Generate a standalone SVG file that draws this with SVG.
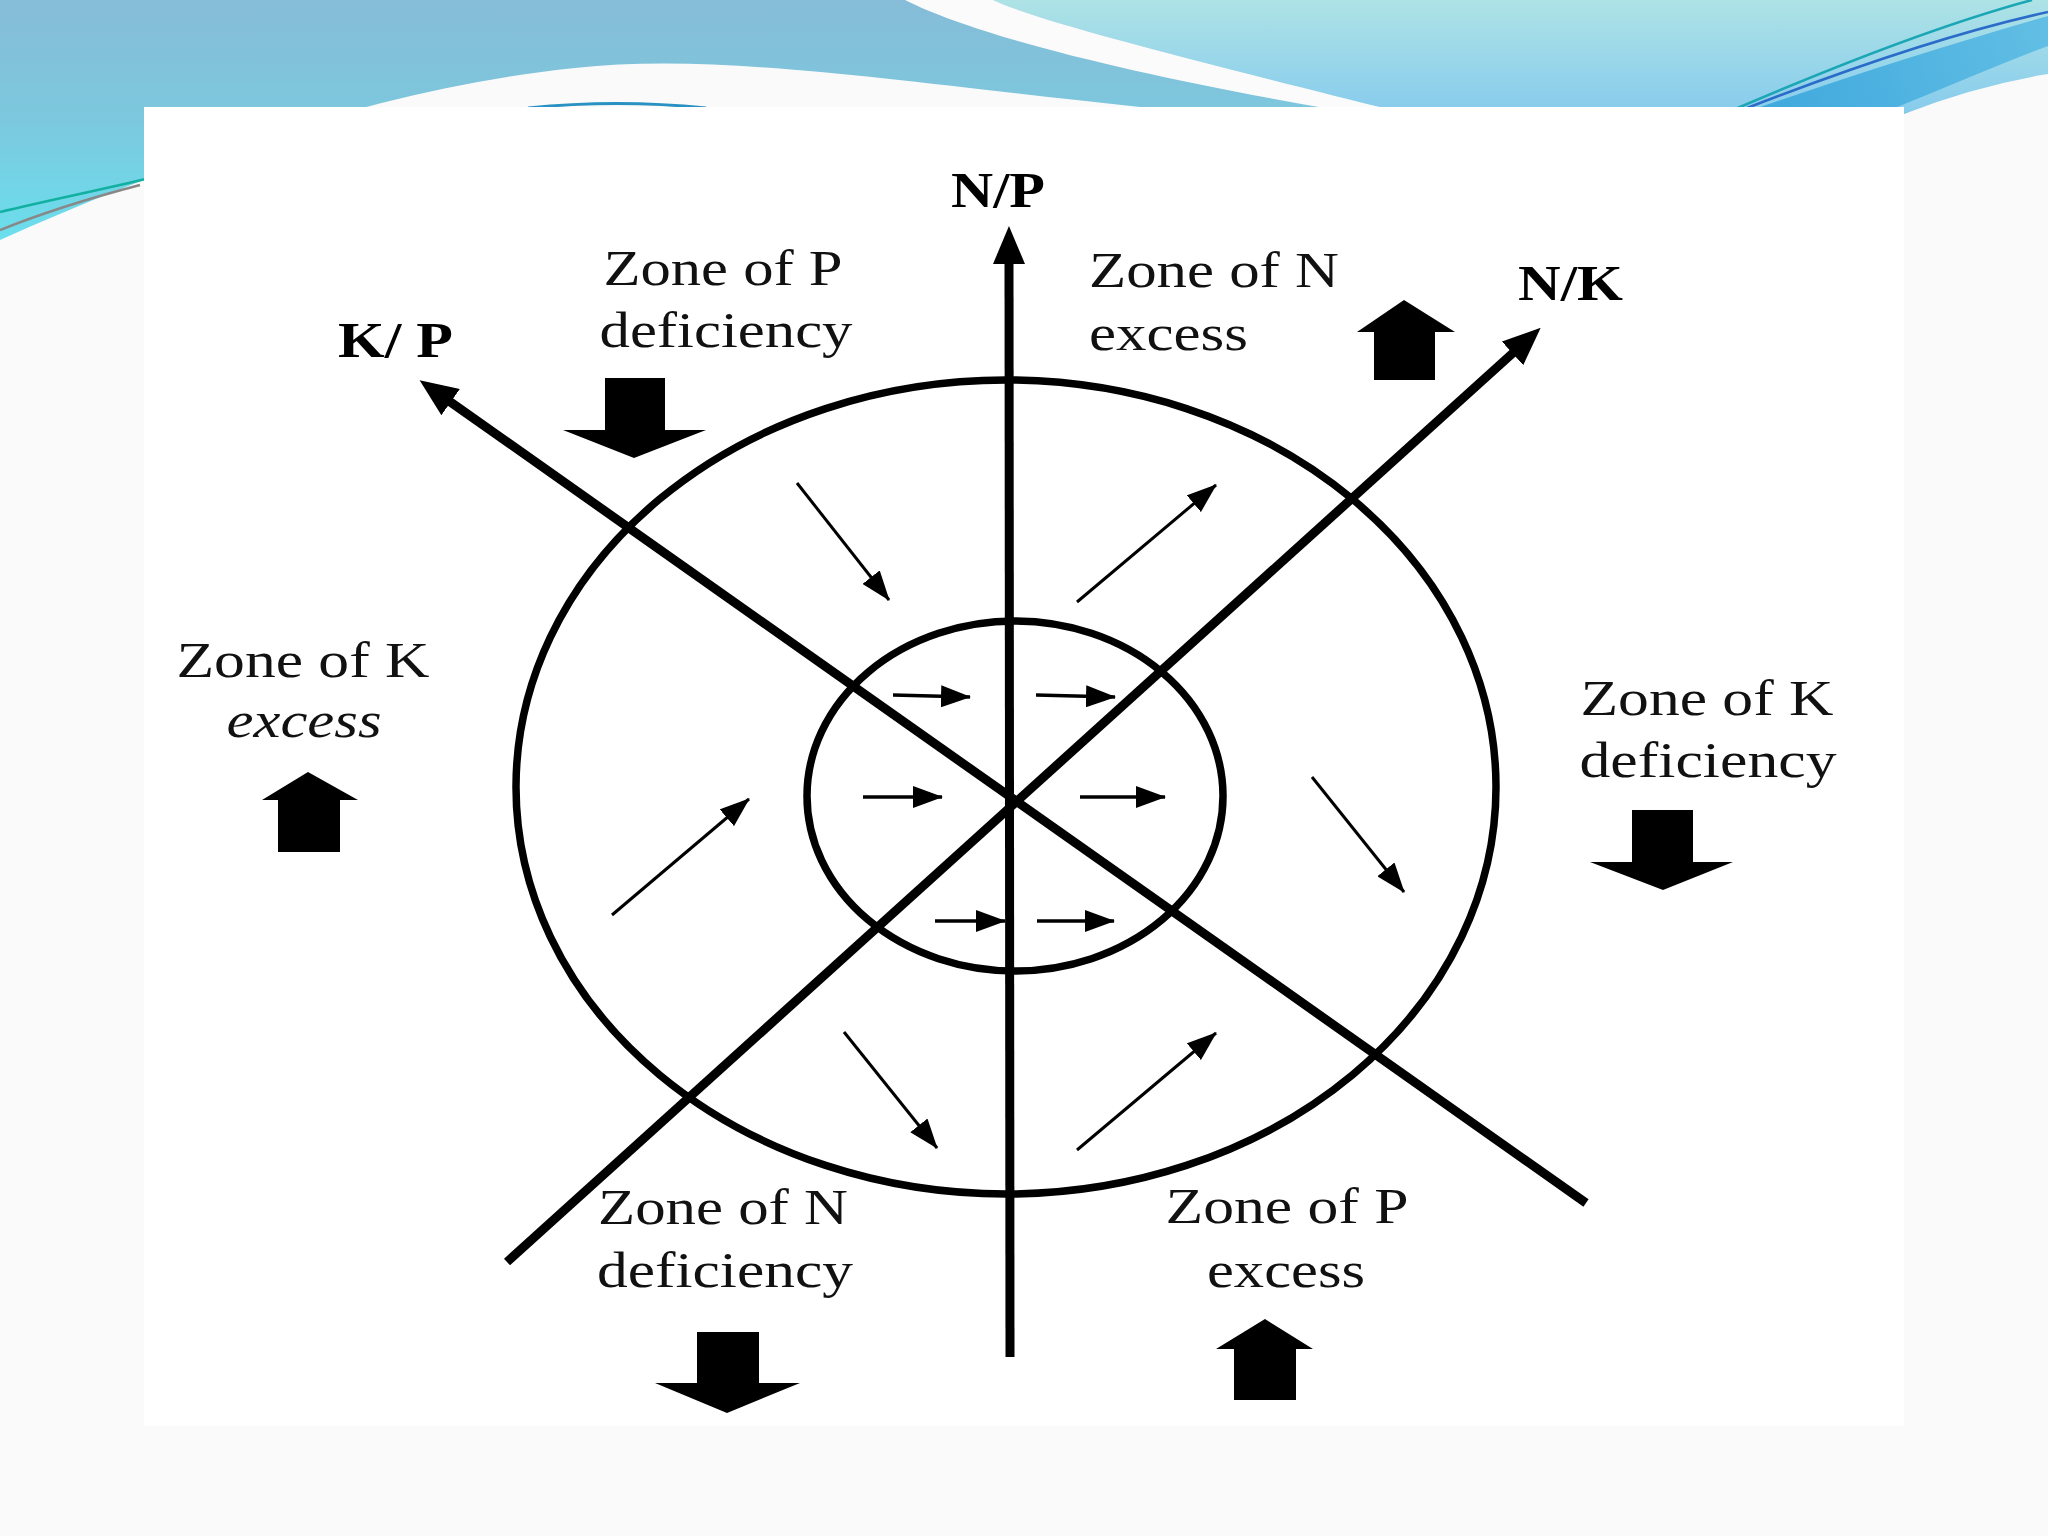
<svg xmlns="http://www.w3.org/2000/svg" width="2048" height="1536" viewBox="0 0 2048 1536">
<defs>
<linearGradient id="gLeft" gradientUnits="userSpaceOnUse" x1="0" y1="0" x2="0" y2="240">
<stop offset="0" stop-color="#86BCD7"/>
<stop offset="0.5" stop-color="#7CC8DE"/>
<stop offset="1" stop-color="#6ADFED"/>
</linearGradient>
<linearGradient id="gRight" gradientUnits="userSpaceOnUse" x1="0" y1="0" x2="0" y2="110">
<stop offset="0" stop-color="#AEE3E6"/>
<stop offset="1" stop-color="#88CCEC"/>
</linearGradient>
<linearGradient id="gBand" gradientUnits="userSpaceOnUse" x1="2048" y1="20" x2="1760" y2="107">
<stop offset="0" stop-color="#62BEE4"/>
<stop offset="1" stop-color="#3FA9DD"/>
</linearGradient>
<marker id="axisHead" markerUnits="userSpaceOnUse" markerWidth="38" markerHeight="32" viewBox="0 0 38 32" refX="2" refY="16" orient="auto">
<path d="M0,0 L38,16 L0,32 Z" fill="#000"/>
</marker>
<marker id="thinHead" markerUnits="userSpaceOnUse" markerWidth="30" markerHeight="22" viewBox="0 0 30 22" refX="29" refY="11" orient="auto">
<path d="M0,0 L30,11 L0,22 Z" fill="#000"/>
</marker>
<style>
.lbl{font-family:"Liberation Serif","Times New Roman",serif;font-size:50px;fill:#111}
.ax{font-family:"Liberation Serif","Times New Roman",serif;font-size:50px;font-weight:bold;fill:#000}
.it{font-style:italic}
.axis{stroke:#000;stroke-width:9;fill:none}
.ring{stroke:#000;stroke-width:7.5;fill:none}
.thin{stroke:#000;stroke-width:3;fill:none}
.thick{stroke-width:3.5}
.blk{fill:#000}
</style>
</defs>

<g id="background">
<rect x="0" y="0" width="2048" height="1536" fill="#FAFAFA"/>
<path d="M0,0 H2048 V80 L1904,115 V107 H1140 C900,82 720,52 575,68 C380,88 180,160 0,240 Z" fill="url(#gLeft)"/>
<path d="M993,0 C1040,22 1200,62 1400,112 L2048,112 V0 Z" fill="url(#gRight)"/>
<path d="M905,0 L993,0 C1040,22 1200,62 1400,112 L1336,110 C1150,78 980,38 905,0 Z" fill="#FBFBFB"/>
<path d="M2048,16 C1950,44 1850,76 1752,110 L1890,110 C1950,86 2000,64 2048,46 Z" fill="url(#gBand)"/>
<path d="M1733,110 C1840,64 1950,22 2032,0" stroke="#1AA6B4" stroke-width="2.5" fill="none"/>
<path d="M1742,110 C1860,64 1965,30 2048,12" stroke="#2A6CC8" stroke-width="2.5" fill="none"/>
<path d="M1904,114 Q1975,86 2048,74 V260 H1904 Z" fill="#FAFAFA"/>
<path d="M0,212 C50,200 100,190 150,178" stroke="#12B0A0" stroke-width="2.5" fill="none"/>
<path d="M0,230 C45,212 90,198 140,185" stroke="#888" stroke-width="2.5" fill="none"/>
<path d="M528,108 Q617,99 706,108" stroke="#2A92C2" stroke-width="3" fill="none"/>
<rect x="144" y="107" width="1760" height="1319" fill="#FFFFFF"/>
</g>

<g id="rings">
<ellipse id="outer-ring" cx="1006" cy="787" rx="490" ry="407" class="ring"/>
<ellipse id="inner-ring" cx="1015" cy="796" rx="208" ry="175" class="ring"/>
</g>

<g id="connectors">
<line class="axis" x1="1010" y1="1357" x2="1009" y2="262" marker-end="url(#axisHead)"/>
<line class="axis" x1="1586" y1="1203" x2="449" y2="401" marker-end="url(#axisHead)"/>
<line class="axis" x1="507" y1="1262" x2="1514" y2="352" marker-end="url(#axisHead)"/>
<line class="thin" x1="797" y1="483" x2="889" y2="600" marker-end="url(#thinHead)"/>
<line class="thin" x1="1077" y1="602" x2="1216" y2="485" marker-end="url(#thinHead)"/>
<line class="thin" x1="612" y1="915" x2="749" y2="799" marker-end="url(#thinHead)"/>
<line class="thin" x1="1312" y1="777" x2="1404" y2="892" marker-end="url(#thinHead)"/>
<line class="thin" x1="844" y1="1032" x2="937" y2="1148" marker-end="url(#thinHead)"/>
<line class="thin" x1="1077" y1="1150" x2="1216" y2="1033" marker-end="url(#thinHead)"/>
<line class="thin thick" x1="893" y1="695" x2="970" y2="697" marker-end="url(#thinHead)"/>
<line class="thin thick" x1="1036" y1="695" x2="1115" y2="697" marker-end="url(#thinHead)"/>
<line class="thin thick" x1="863" y1="797" x2="942" y2="797" marker-end="url(#thinHead)"/>
<line class="thin thick" x1="1080" y1="797" x2="1165" y2="797" marker-end="url(#thinHead)"/>
<line class="thin thick" x1="935" y1="921" x2="1005" y2="921" marker-end="url(#thinHead)"/>
<line class="thin thick" x1="1037" y1="921" x2="1114" y2="921" marker-end="url(#thinHead)"/>
</g>

<g id="axis-np"><text class="ax" x="998" y="207" text-anchor="middle" textLength="94" lengthAdjust="spacingAndGlyphs">N/P</text></g>
<g id="axis-kp"><text class="ax" x="338" y="357" textLength="115" lengthAdjust="spacingAndGlyphs">K/ P</text></g>
<g id="axis-nk"><text class="ax" x="1518" y="300" textLength="105" lengthAdjust="spacingAndGlyphs">N/K</text></g>

<g id="zone-p-deficiency">
<text class="lbl" x="723" y="285" text-anchor="middle" textLength="239" lengthAdjust="spacingAndGlyphs">Zone of P</text>
<text class="lbl" x="726" y="347" text-anchor="middle" textLength="253" lengthAdjust="spacingAndGlyphs">deficiency</text>
<polygon class="blk" points="605,378 665,378 665,430 706,430 634,458 563,430 605,430"/>
</g>

<g id="zone-n-excess">
<text class="lbl" x="1089" y="287" textLength="250" lengthAdjust="spacingAndGlyphs">Zone of N</text>
<text class="lbl" x="1089" y="350" textLength="159" lengthAdjust="spacingAndGlyphs">excess</text>
<polygon class="blk" points="1404,300 1455,332 1435,332 1435,380 1374,380 1374,332 1357,332"/>
</g>

<g id="zone-k-excess">
<text class="lbl" x="303" y="677" text-anchor="middle" textLength="253" lengthAdjust="spacingAndGlyphs">Zone of K</text>
<text class="lbl it" x="304" y="737" text-anchor="middle" textLength="155" lengthAdjust="spacingAndGlyphs">excess</text>
<polygon class="blk" points="308,772 358,800 340,800 340,852 278,852 278,800 262,800"/>
</g>

<g id="zone-k-deficiency">
<text class="lbl" x="1707" y="715" text-anchor="middle" textLength="253" lengthAdjust="spacingAndGlyphs">Zone of K</text>
<text class="lbl" x="1708" y="777" text-anchor="middle" textLength="257" lengthAdjust="spacingAndGlyphs">deficiency</text>
<polygon class="blk" points="1632,810 1693,810 1693,862 1733,862 1663,890 1590,862 1632,862"/>
</g>

<g id="zone-n-deficiency">
<text class="lbl" x="723" y="1224" text-anchor="middle" textLength="250" lengthAdjust="spacingAndGlyphs">Zone of N</text>
<text class="lbl" x="725" y="1287" text-anchor="middle" textLength="256" lengthAdjust="spacingAndGlyphs">deficiency</text>
<polygon class="blk" points="697,1332 759,1332 759,1383 800,1383 727,1413 655,1383 697,1383"/>
</g>

<g id="zone-p-excess">
<text class="lbl" x="1287" y="1223" text-anchor="middle" textLength="243" lengthAdjust="spacingAndGlyphs">Zone of P</text>
<text class="lbl" x="1286" y="1287" text-anchor="middle" textLength="158" lengthAdjust="spacingAndGlyphs">excess</text>
<polygon class="blk" points="1265,1319 1313,1349 1296,1349 1296,1400 1234,1400 1234,1349 1216,1349"/>
</g>
</svg>
